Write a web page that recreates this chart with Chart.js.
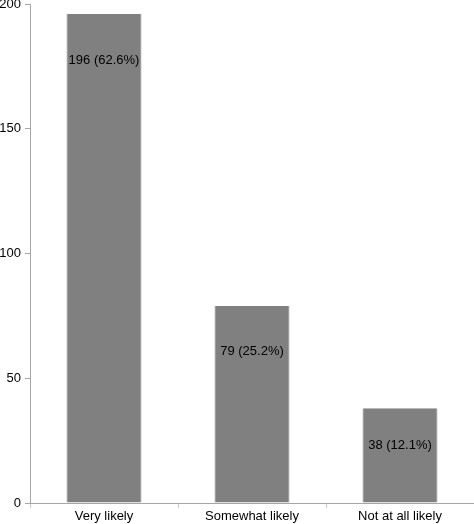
<!DOCTYPE html>
<html>
<head>
<meta charset="utf-8">
<script src="https://cdn.jsdelivr.net/npm/chart.js@4"></script>
<style>
  html, body { margin: 0; padding: 0; background: #fff; }
  canvas { display: block; }
</style>
</head>
<body>
<canvas id="chart" width="474" height="524"></canvas>
<script>
const categories = ['Very likely', 'Somewhat likely', 'Not at all likely'];
const counts = [196, 79, 38];
const percents = ['62.6%', '25.2%', '12.1%'];
const yTicks = [0, 50, 100, 150, 200];

// writes "n (p%)" inside each bar, a bit below its top
const barLabels = {
    id: 'barLabels',
    afterDatasetsDraw(chart) {
        const ctx = chart.ctx;
        const meta = chart.getDatasetMeta(0);
        ctx.save();
        ctx.font = '13px "Liberation Sans", Arial, sans-serif';
        ctx.fillStyle = '#000';
        ctx.textAlign = 'center';
        ctx.textBaseline = 'middle';
        meta.data.forEach((bar, i) => {
            const h = bar.base - bar.y;
            ctx.fillText(counts[i] + ' (' + percents[i] + ')', bar.x, bar.y + Math.min(46, h * 0.4));
        });
        ctx.restore();
    }
};

new Chart(document.getElementById('chart').getContext('2d'), {
    type: 'bar',
    data: {
        labels: categories,
        datasets: [{
            data: counts,
            backgroundColor: '#808080',
            borderColor: '#d4d4d4',
            borderWidth: { left: 1, right: 1, top: 0, bottom: 0 },
            borderSkipped: false,
            barPercentage: 0.51,
            categoryPercentage: 1
        }]
    },
    options: {
        responsive: false,
        animation: false,
        devicePixelRatio: 1,
        layout: { padding: { top: 4, right: 0, left: 0, bottom: 0 } },
        plugins: {
            legend: { display: false },
            tooltip: { enabled: false }
        },
        scales: {
            x: {
                offset: true,
                border: { display: true, color: '#a6a6a6', width: 1 },
                grid: { offset: true, drawOnChartArea: false, drawTicks: true, tickLength: 5, color: '#c8c8c8' },
                ticks: { color: '#000', font: { family: '"Liberation Sans", Arial, sans-serif', size: 13 }, padding: 1, maxRotation: 0 },
                afterFit(scale) { scale.height = 21; scale.paddingLeft = 0; scale.paddingRight = 0; }
            },
            y: {
                min: 0,
                max: 200,
                afterBuildTicks(scale) { scale.ticks = yTicks.map(v => ({ value: v })); },
                border: { display: true, color: '#a6a6a6', width: 1 },
                grid: { drawOnChartArea: false, drawTicks: true, tickLength: 5, color: '#a6a6a6' },
                ticks: { color: '#000', font: { family: '"Liberation Sans", Arial, sans-serif', size: 13 }, padding: 4 },
                afterFit(scale) { scale.width = 30; scale.paddingTop = 0; scale.paddingBottom = 0; }
            }
        }
    },
    plugins: [barLabels]
});
</script>
</body>
</html>
